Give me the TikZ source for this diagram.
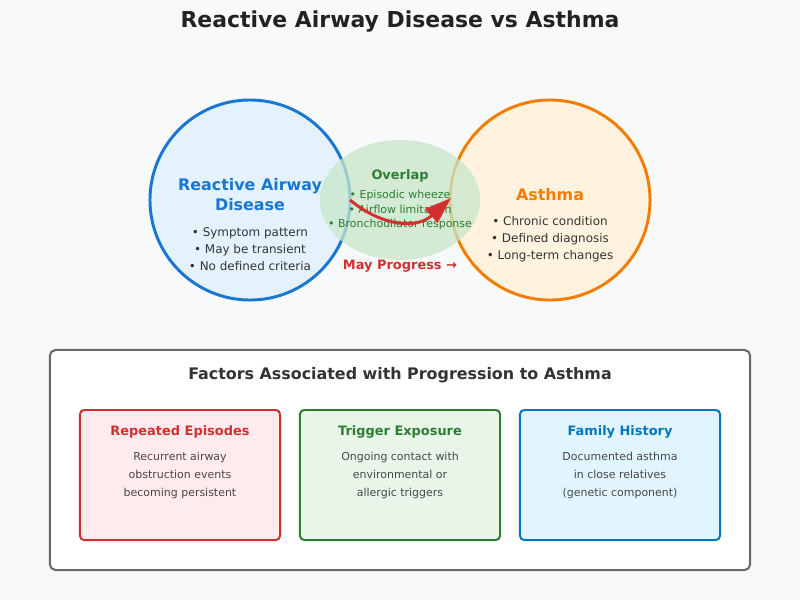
\documentclass[tikz,border=0pt]{standalone}
\usepackage{fontspec}
\setmainfont{DejaVu Sans}
\usepackage{xcolor}
\usepackage{tikz}
\usetikzlibrary{arrows.meta, positioning, shapes.geometric}

\definecolor{pagebg}{HTML}{F8F9FA}
\definecolor{titlegray}{HTML}{222222}
\definecolor{textgray}{HTML}{333333}
\definecolor{radblue}{HTML}{1976D2}
\definecolor{radfill}{HTML}{E3F2FD}
\definecolor{asthorange}{HTML}{F57C00}
\definecolor{asthfill}{HTML}{FFF3E0}
\definecolor{overgreen}{HTML}{2E7D32}
\definecolor{overfill}{HTML}{C8E6C9}
\definecolor{progred}{HTML}{D32F2F}
\definecolor{redfill}{HTML}{FFEBEE}
\definecolor{greenfill}{HTML}{E8F5E9}
\definecolor{famblue}{HTML}{0277BD}
\definecolor{bluefill}{HTML}{E1F5FE}
\definecolor{panelgray}{HTML}{666666}

\newcommand{\pxsize}[2]{\fontsize{#1}{#2}\selectfont}

\begin{document}
\begin{tikzpicture}[
        x=0.025cm, y=-0.025cm,
        venn/.style={circle, draw, inner sep=0pt, minimum size=5cm, line width=2.1pt},
        overlapzone/.style={ellipse, inner sep=0pt, minimum width=4cm, minimum height=3cm, fill=overfill, fill opacity=0.75},
        bigtitle/.style={font=\bfseries\pxsize{15.6}{18}, text=titlegray},
        venntitle/.style={font=\bfseries\pxsize{11.3}{14.2}, align=center},
        bullets/.style={font=\pxsize{8.5}{12}, text=textgray, align=center},
        factorbox/.style={rectangle, draw, rounded corners=3pt, line width=1.4pt, minimum width=5cm, minimum height=3.25cm},
        boxtitle/.style={font=\bfseries\pxsize{9.2}{11}},
        boxtext/.style={font=\pxsize{7.8}{12.8}, text=textgray!90!white, align=center},
        progarrow/.style={-{Triangle[length=19pt, width=13pt, fill=progred]}, line width=2.1pt, draw=progred}
    ]

    % Page
    \fill[pagebg] (0,0) rectangle (800,600);
    \useasboundingbox (0,0) rectangle (800,600);

    % Title
    \node[bigtitle] (title) at (400,22) {Reactive Airway Disease vs Asthma};

    % Circles
    \node[venn, draw=radblue, fill=radfill] (rad) at (250,200) {};
    \node[venn, draw=asthorange, fill=asthfill] (asthma) at (550,200) {};
    \node[overlapzone] (overlap) at (400,200) {};

    % Circle texts
    \node[venntitle, text=radblue] (radtitle) at (250,195) {Reactive Airway\\Disease};
    \node[bullets] (radlist) at (250,249) {• Symptom pattern\\• May be transient\\• No defined criteria};

    \node[venntitle, text=asthorange] (asthtitle) at (550,195) {Asthma};
    \node[bullets] (asthlist) at (550,239) {• Chronic condition\\• Defined diagnosis\\• Long-term changes};

    \node[boxtitle, text=overgreen] (overtitle) at (400,176) {Overlap};
    \node[bullets, font=\pxsize{7.8}{10.6}, text=overgreen] (overlist) at (400,210) {• Episodic wheeze\\• Airflow limitation\\• Bronchodilator response};

    % Progression
    \coordinate (progstart) at (350,200);
    \coordinate (progend) at (451,198);
    \draw[progarrow] (progstart) .. controls (383,227) and (417,229) .. (progend);
    \node[boxtitle, text=progred] (proglabel) at (400,266) {May Progress →};

    % Factors panel
    \node[rectangle, draw=panelgray, fill=white, rounded corners=4pt, line width=1.4pt, minimum width=17.5cm, minimum height=5.5cm] (panel) at (400,460) {};
    \node[font=\bfseries\pxsize{11.3}{14}, text=textgray] (paneltitle) at (400,375) {Factors Associated with Progression to Asthma};

    \node[factorbox, draw=progred, fill=redfill] (repeated) at (180,475) {};
    \node[factorbox, draw=overgreen, fill=greenfill] (trigger) at (400,475) {};
    \node[factorbox, draw=famblue, fill=bluefill] (family) at (620,475) {};

    \node[boxtitle, text=progred] at (180,432) {Repeated Episodes};
    \node[boxtext] at (180,475) {Recurrent airway\\obstruction events\\becoming persistent};

    \node[boxtitle, text=overgreen] at (400,432) {Trigger Exposure};
    \node[boxtext] at (400,475) {Ongoing contact with\\environmental or\\allergic triggers};

    \node[boxtitle, text=famblue] at (620,432) {Family History};
    \node[boxtext] at (620,475) {Documented asthma\\in close relatives\\(genetic component)};

\end{tikzpicture}
\end{document}
